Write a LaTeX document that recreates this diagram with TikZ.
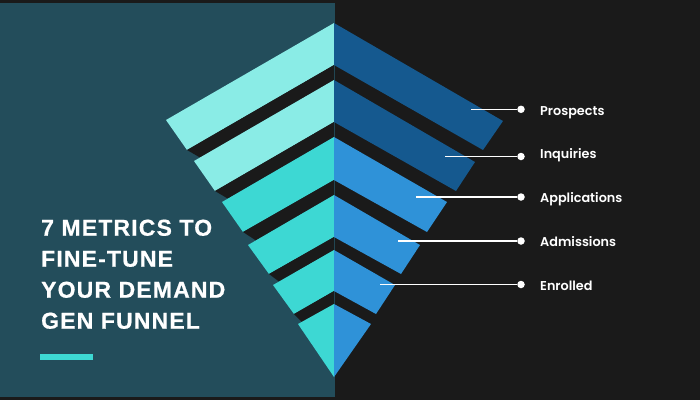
\documentclass[tikz,border=0pt]{standalone}
\usepackage{fontspec}
\setmainfont{Liberation Sans}
\newfontfamily\labelfont{Poppins SemiBold}
\newfontfamily\titlefont{Liberation Sans}[LetterSpace=5,BoldFeatures={FakeBold=0.6}]
\definecolor{bgblack}{HTML}{1A1A1A}
\definecolor{panel}{HTML}{234D5B}
\definecolor{palecyan}{HTML}{8AECE6}
\definecolor{midcyan}{HTML}{3DD8D3}
\definecolor{deepblue}{HTML}{15598F}
\definecolor{brightblue}{HTML}{2F92D8}
\tikzset{
  dotnode/.style={circle,fill=white,inner sep=0pt,minimum size=7.5pt},
  leader/.style={draw=white,line width=1.2pt},
  metric/.style={anchor=base west,text=white,inner sep=0pt,font=\labelfont\fontsize{12.8}{15}\selectfont},
  headline/.style={anchor=base west,text=white,inner sep=0pt,font=\titlefont\fontsize{23}{24}\selectfont\bfseries}
}
\begin{document}
\begin{tikzpicture}[x=1pt,y=-1pt]
\useasboundingbox (0,0) rectangle (700,400);
\fill[bgblack] (0,0) rectangle (700,400);
\fill[panel] (0,3) rectangle (335,397);
% left bands
\fill[palecyan] (334,23) -- (166,120) -- (187,150) -- (334,65) -- cycle;
\fill[bgblack] (334,65) -- (187,150) -- (200,157.5) -- (334,80) -- cycle;
\fill[palecyan] (334,80) -- (194,161) -- (215,191) -- (334,122) -- cycle;
\fill[bgblack] (334,122) -- (215,191) -- (228,198.7) -- (334,137) -- cycle;
\fill[midcyan] (334,137) -- (222,202) -- (243,232) -- (334,180) -- cycle;
\fill[bgblack] (334,180) -- (243,232) -- (256,240.5) -- (334,195) -- cycle;
\fill[midcyan] (334,195) -- (248,245) -- (269,274) -- (334,237) -- cycle;
\fill[bgblack] (334,237) -- (269,274) -- (279,281.5) -- (334,250) -- cycle;
\fill[midcyan] (334,250) -- (273,285) -- (294,314) -- (334,291) -- cycle;
\fill[bgblack] (334,291) -- (294,314) -- (302,322) -- (334,304) -- cycle;
\fill[midcyan] (334,304) -- (298,324) -- (334,377) -- cycle;
% right bands
\fill[deepblue] (334,23) -- (503,121) -- (483,150) -- (334,65) -- cycle;
\fill[deepblue] (334,80) -- (475,162) -- (456,191) -- (334,122) -- cycle;
\fill[brightblue] (334,137) -- (447,202) -- (427,232) -- (334,180) -- cycle;
\fill[brightblue] (334,195) -- (420,245) -- (401,274) -- (334,237) -- cycle;
\fill[brightblue] (334,250) -- (395,285) -- (376,314) -- (334,291) -- cycle;
\fill[brightblue] (334,304) -- (371,324) -- (334,377) -- cycle;
% leaders
\coordinate (s1) at (471,109.3);
\coordinate (s2) at (445,156.5);
\coordinate (s3) at (416,197);
\coordinate (s4) at (398,241);
\coordinate (s5) at (380,284.5);
\node[dotnode] (d1) at (521,109.3) {};
\node[dotnode] (d2) at (521,156.5) {};
\node[dotnode] (d3) at (521,197) {};
\node[dotnode] (d4) at (521,241) {};
\node[dotnode] (d5) at (521,284.5) {};
\draw[leader] (s1) -- (d1);
\draw[leader] (s2) -- (d2);
\draw[leader] (s3) -- (d3);
\draw[leader] (s4) -- (d4);
\draw[leader] (s5) -- (d5);
\node[metric] (l1) at (540,115) {Prospects};
\node[metric] (l2) at (540,158.3) {Inquiries};
\node[metric] (l3) at (540,202) {Applications};
\node[metric] (l4) at (540,246) {Admissions};
\node[metric] (l5) at (540,290) {Enrolled};
% title
\node[headline] (t1) at (41,235.7) {7 METRICS TO};
\node[headline] (t2) at (41,266.7) {FINE-TUNE};
\node[headline] (t3) at (41,297.7) {YOUR DEMAND};
\node[headline] (t4) at (41,328.7) {GEN FUNNEL};
\fill[midcyan] (40,354) rectangle (93,360);
\end{tikzpicture}
\end{document}
